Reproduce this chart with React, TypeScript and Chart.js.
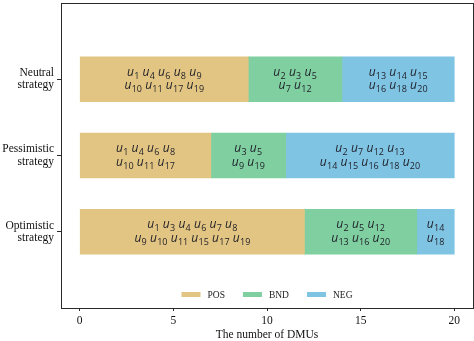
import React, { useEffect, useRef } from 'react';
import { Chart, registerables } from 'chart.js';

Chart.register(...registerables);

const strategies: string[][] = [
  ['Neutral', 'strategy'],
  ['Pessimistic', 'strategy'],
  ['Optimistic', 'strategy'],
];
const seriesNames = ['POS', 'BND', 'NEG'];
const posCounts = [9, 7, 12];
const bndCounts = [5, 4, 6];
const negCounts = [6, 9, 2];
const xTicks = [0, 5, 10, 15, 20];

const posMembers = [
  [[1, 4, 6, 8, 9], [10, 11, 17, 19]],
  [[1, 4, 6, 8], [10, 11, 17]],
  [[1, 3, 4, 6, 7, 8], [9, 10, 11, 15, 17, 19]],
];
const bndMembers = [
  [[2, 3, 5], [7, 12]],
  [[3, 5], [9, 19]],
  [[2, 5, 12], [13, 16, 20]],
];
const negMembers = [
  [[13, 14, 15], [16, 18, 20]],
  [[2, 7, 12, 13], [14, 15, 16, 18, 20]],
  [[14], [18]],
];

const colors = ['#E2C582', '#7FCFA0', '#80C4E3'];
const SERIF = '"Liberation Serif", "Times New Roman", serif';
const SANS = '"Open Sans", "Noto Sans", sans-serif';

const memberSets = [posMembers, bndMembers, negMembers];

const barTextPlugin = {
  id: 'barText',
  afterDatasetsDraw(chart: any) {
    const ctx = chart.ctx as CanvasRenderingContext2D;
    ctx.save();
    ctx.fillStyle = '#1e1e28';
    ctx.textBaseline = 'alphabetic';
    ctx.textAlign = 'left';
    const uFont = `italic 12px ${SANS}`;
    const subFont = `9px ${SANS}`;
    const gap = 3.2;
    chart.data.datasets.forEach((_ds: any, di: number) => {
      const meta = chart.getDatasetMeta(di);
      meta.data.forEach((el: any, i: number) => {
        const p = el.getProps(['x', 'base', 'y'], true);
        const cx = (p.x + p.base) / 2;
        const lines: number[][] = memberSets[di][i];
        lines.forEach((line, li) => {
          const lc = p.y + (li === 0 ? -6.75 : 6.75);
          const baseline = lc + 3.3;
          ctx.font = uFont;
          const uw = ctx.measureText('u').width;
          ctx.font = subFont;
          const widths = line.map((n) => uw + ctx.measureText(String(n)).width + 0.3);
          const total = widths.reduce((a, b) => a + b, 0) + gap * (line.length - 1);
          let xx = cx - total / 2;
          line.forEach((n, k) => {
            ctx.font = uFont;
            ctx.fillText('u', xx, baseline);
            ctx.font = subFont;
            ctx.fillText(String(n), xx + uw + 0.3, baseline + 3);
            xx += widths[k] + gap;
          });
        });
      });
    });
    ctx.restore();
  },
};

const framePlugin = {
  id: 'frameAndLegend',
  afterDraw(chart: any) {
    const ctx = chart.ctx as CanvasRenderingContext2D;
    const a = chart.chartArea;
    ctx.save();
    ctx.strokeStyle = '#2a2a2a';
    ctx.lineWidth = 1;
    ctx.strokeRect(Math.round(a.left) + 0.5, Math.round(a.top) + 0.5, Math.round(a.right - a.left), Math.round(a.bottom - a.top));

    // legend inside plot area
    ctx.font = `9.5px ${SERIF}`;
    ctx.textBaseline = 'middle';
    ctx.textAlign = 'left';
    const boxW = 19;
    const boxH = 5;
    const boxGap = 7;
    const itemGap = 18;
    const textWs = seriesNames.map((s) => ctx.measureText(s).width);
    const total = textWs.reduce((s, w) => s + boxW + boxGap + w, 0) + itemGap * (seriesNames.length - 1);
    let x = (a.left + a.right) / 2 - total / 2;
    const yc = a.bottom - 13.5;
    seriesNames.forEach((name, i) => {
      ctx.fillStyle = colors[i];
      ctx.fillRect(x, yc - boxH / 2, boxW, boxH);
      ctx.fillStyle = '#222';
      ctx.fillText(name, x + boxW + boxGap, yc + 0.5);
      x += boxW + boxGap + textWs[i] + itemGap;
    });
    ctx.restore();
  },
};

export default function App() {
  const ref = useRef<HTMLCanvasElement | null>(null);

  useEffect(() => {
    document.body.style.margin = '0';
    const canvas = ref.current;
    if (!canvas) return;
    const countSets = [posCounts, bndCounts, negCounts];
    const chart = new Chart(canvas, {
      type: 'bar',
      data: {
        datasets: seriesNames.map((name, di) => ({
          label: name,
          data: countSets[di].map((v, i) => ({ x: v, y: i })),
          backgroundColor: colors[di],
          borderWidth: 0,
          barThickness: 45,
        })),
      },
      options: {
        indexAxis: 'y',
        animation: false,
        responsive: false,
        devicePixelRatio: 1,
        layout: { padding: { top: 3, right: 1, left: 0, bottom: 0 } },
        plugins: {
          legend: { display: false },
          tooltip: { enabled: false },
        },
        scales: {
          x: {
            type: 'linear',
            min: -1,
            max: 21,
            stacked: true,
            offset: false,
            afterBuildTicks: (s: any) => {
              s.ticks = xTicks.map((v) => ({ value: v }));
            },
            ticks: {
              font: { family: SERIF, size: 11.5 },
              color: '#111',
              padding: 3,
              maxRotation: 0,
            },
            grid: { display: true, offset: false, drawOnChartArea: false, tickLength: 3, color: '#2a2a2a' },
            border: { display: true, color: '#2a2a2a', width: 1 },
            title: {
              display: true,
              text: 'The number of DMUs',
              font: { family: SERIF, size: 11.5, lineHeight: 1 },
              color: '#111',
              padding: { top: 0, bottom: 0 },
            },
            afterFit: (s: any) => {
              s.height = 33;
              s.paddingLeft = 0;
              s.paddingRight = 0;
            },
          },
          y: {
            type: 'linear',
            min: -1,
            max: 3,
            reverse: true,
            stacked: true,
            offset: false,
            afterBuildTicks: (s: any) => {
              s.ticks = [0, 1, 2].map((v) => ({ value: v }));
            },
            ticks: {
              callback: (v: any) => strategies[v as number],
              font: { family: SERIF, size: 11.5, lineHeight: 1.05 },
              color: '#111',
              padding: 3,
            },
            grid: { display: true, offset: false, drawOnChartArea: false, tickLength: 4, color: '#2a2a2a' },
            border: { display: true, color: '#2a2a2a', width: 1 },
            afterFit: (s: any) => {
              s.width = 61;
              s.paddingTop = 0;
              s.paddingBottom = 0;
            },
          },
        },
      },
      plugins: [barTextPlugin, framePlugin],
    } as any);
    return () => chart.destroy();
  }, []);

  return (
    <div style={{ width: 474, height: 341 }}>
      <canvas ref={ref} width={474} height={341} />
    </div>
  );
}
